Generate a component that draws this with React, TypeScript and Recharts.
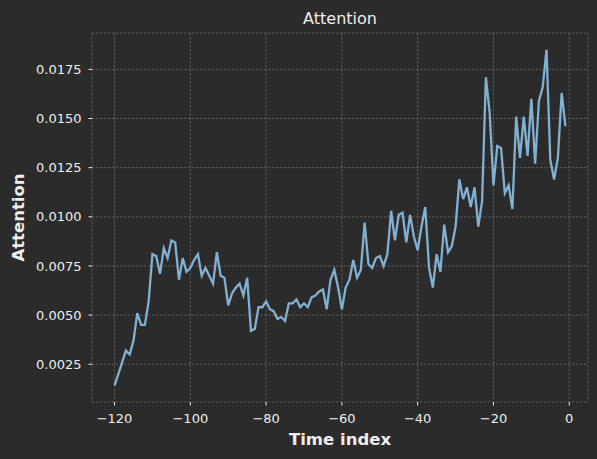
import { LineChart, Line, XAxis, YAxis, CartesianGrid, Label } from "recharts";

// attention weights, time index -120 .. -1
const attention = [
  0.00143, 0.002, 0.0026, 0.0032, 0.003, 0.0037, 0.0051, 0.0045, 0.0045, 0.0057,
  0.0081, 0.008, 0.0071, 0.0084, 0.0079, 0.0088, 0.0087, 0.0068, 0.0079, 0.0072,
  0.0074, 0.0078, 0.0081, 0.007, 0.0074, 0.007, 0.0066, 0.0082, 0.007, 0.0069,
  0.0055, 0.0061, 0.0064, 0.0066, 0.006, 0.0069, 0.0042, 0.0043, 0.0054, 0.0054,
  0.0057, 0.0053, 0.0052, 0.0048, 0.0049, 0.0047, 0.0056, 0.0056, 0.0058, 0.0054,
  0.0056, 0.0054, 0.0059, 0.006, 0.0062, 0.0063, 0.0053, 0.0068, 0.0073, 0.0064,
  0.0053, 0.0064, 0.0068, 0.0078, 0.0069, 0.0073, 0.0097, 0.0076, 0.0074, 0.0079,
  0.008, 0.0075, 0.0081, 0.0103, 0.0088, 0.0101, 0.0102, 0.0087, 0.0101, 0.009,
  0.0083, 0.0095, 0.0105, 0.0074, 0.0064, 0.0081, 0.0072, 0.0096, 0.0082, 0.0085,
  0.0095, 0.0119, 0.0109, 0.0115, 0.0105, 0.0115, 0.0095, 0.0108, 0.0171, 0.0153,
  0.0116, 0.0136, 0.0135, 0.0112, 0.0116, 0.0104, 0.0151, 0.013, 0.0151, 0.0131,
  0.016, 0.0127, 0.0159, 0.0166, 0.0185, 0.0129, 0.0119, 0.013, 0.0163, 0.0146,
];
const startIndex = -120;

const xTicks = [-120, -100, -80, -60, -40, -20, 0];
const yTicks = [0.0025, 0.005, 0.0075, 0.01, 0.0125, 0.015, 0.0175];

const data = attention.map((v, i) => ({ t: startIndex + i, value: v }));

const FONT = "DejaVu Sans, sans-serif";
const TEXT = "#eeeeee";
const BG = "#2b2b2b";

const minus = (s: string) => s.replace("-", "\u2212");

export default function App() {
  return (
    <div
      style={{
        position: "absolute",
        left: 0,
        top: 0,
        width: 597,
        height: 459,
        background: BG,
        fontFamily: FONT,
      }}
    >
      <svg
        width={597}
        height={459}
        style={{ position: "absolute", left: 0, top: 0, pointerEvents: "none" }}
      >
        <text x={340} y={24} textAnchor="middle" fill={TEXT} fontSize={16} fontFamily={FONT}>
          Attention
        </text>
      </svg>
      <LineChart
        width={597}
        height={459}
        data={data}
        margin={{ top: 33, right: 9, left: 0, bottom: 0 }}
      >
        <CartesianGrid stroke="#666666" strokeWidth={0.8} strokeDasharray="2.5 1.5" />
        <XAxis
          dataKey="t"
          type="number"
          domain={[-125.95, 4.95]}
          allowDataOverflow
          ticks={xTicks}
          tickFormatter={(v: number) => minus(String(v))}
          height={57}
          axisLine={false}
          tickSize={3.5}
          tickMargin={8}
          tickLine={{ stroke: TEXT }}
          tick={{ fill: TEXT, fontSize: 13, fontFamily: FONT }}
        >
          <Label
            content={({ viewBox }: any) => (
              <text
                x={viewBox.x + viewBox.width / 2}
                y={445}
                textAnchor="middle"
                fill={TEXT}
                fontSize={16.5}
                fontWeight="bold"
                fontFamily={FONT}
              >
                Time index
              </text>
            )}
          />
        </XAxis>
        <YAxis
          type="number"
          domain={[0.00058, 0.01935]}
          allowDataOverflow
          ticks={yTicks}
          tickFormatter={(v: number) => v.toFixed(4)}
          width={92}
          axisLine={false}
          tickSize={3.5}
          tickMargin={7}
          tickLine={{ stroke: TEXT }}
          tick={{ fill: TEXT, fontSize: 13, fontFamily: FONT }}
        >
          <Label
            content={({ viewBox }: any) => {
              const cy = viewBox.y + viewBox.height / 2;
              return (
                <text
                  x={24}
                  y={cy}
                  transform={`rotate(-90, 24, ${cy})`}
                  textAnchor="middle"
                  fill={TEXT}
                  fontSize={16.5}
                  fontWeight="bold"
                  fontFamily={FONT}
                >
                  Attention
                </text>
              );
            }}
          />
        </YAxis>
        <Line
          type="linear"
          dataKey="value"
          stroke="#82b0d1"
          strokeWidth={2.3}
          dot={false}
          isAnimationActive={false}
        />
      </LineChart>
    </div>
  );
}
